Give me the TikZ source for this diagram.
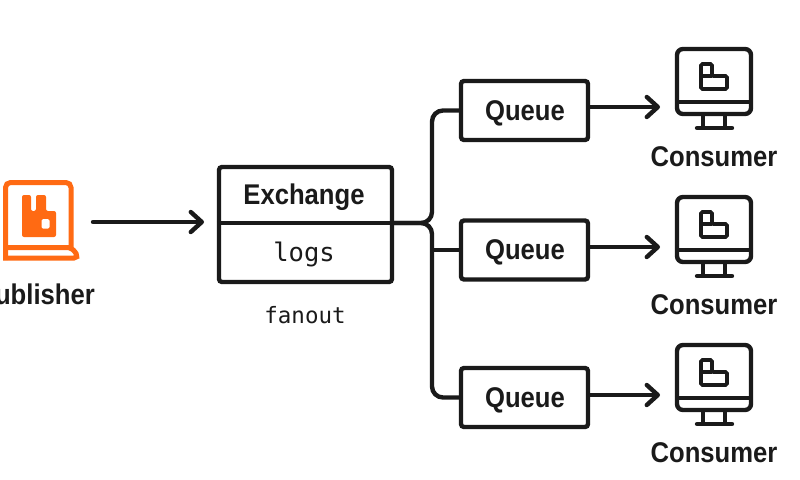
\documentclass[tikz,border=0pt]{standalone}
\usepackage{fontspec}
\setmainfont{Liberation Sans}
\newfontfamily\monof{DejaVu Sans Mono}
\usetikzlibrary{arrows.meta}
\definecolor{ink}{HTML}{1A1A1A}
\definecolor{rabbit}{HTML}{FF6A13}
\tikzset{
  x=1pt,y=-1pt,
  box/.style={draw=ink,line width=4.4pt,rounded corners=3pt,inner sep=0pt,fill=white},
  link/.style={draw=ink,line width=4.4pt,line cap=round},
  tree/.style={draw=ink,line width=4.4pt,rounded corners=11pt},
  flow/.style={link,-{Straight Barb[length=11pt,width=20pt,round,line width=4.4pt]}},
  boldlabel/.style={inner sep=0pt,font=\fontsize{28.5}{28.5}\selectfont\bfseries,text=ink},
  monolabel/.style={inner sep=0pt,font=\monof\selectfont,text=ink},
  screen/.style={draw=ink,line width=4.4pt,rounded corners=6pt,inner sep=0pt},
}
\newcommand{\squeezed}[2]{\scalebox{#1}[1]{#2}}
\begin{document}
\begin{tikzpicture}
\useasboundingbox (0,0) rectangle (800,479);
\clip (0,0) rectangle (800,479);
% publisher icon
\begin{scope}
  \clip (3,170) rectangle (90,270);
  \draw[rabbit,line width=5pt,rounded corners=5pt] (5.5,260) -- (5.5,182.5) -- (71,182.5) -- (71,248);
  \draw[rabbit,line width=5pt,rounded corners=5pt] (-5,247.5) -- (72,247.5) -- (79,258) -- (-5,258);
  \fill[rabbit,rounded corners=2pt]
     (22,195) -- (31,195) -- (31,211) -- (36,211) -- (36,195) -- (46,195) -- (46,211) -- (56,211) -- (56,237) -- (22,237) -- cycle;
  \fill[white,rounded corners=1.5pt] (41.5,219) rectangle (49.5,228.5);
\end{scope}
\node[boldlabel,anchor=base east] (pub) at (95,304) {\squeezed{0.9}{Publisher}};
% exchange
\node[box,minimum width=173pt,minimum height=115pt] (ex) at (305.5,224.5) {};
\coordinate (split) at (392,223);
\draw[link,line cap=butt] (ex.west |- split) -- (split);
\node[boldlabel] (exname) at (304,197) {\squeezed{0.9}{Exchange}};
\node[monolabel,font=\monof\fontsize{25.5}{25.5}\selectfont] (logs) at (304,254) {logs};
\node[monolabel,font=\monof\fontsize{22.5}{22.5}\selectfont] (fanout) at (305,315) {fanout};
% publisher arrow
\coordinate (pubout) at (93,222);
\coordinate (exin) at (204,222);
\draw[flow] (pubout) -- (exin);
% queues and consumers
\foreach \i/\cy/\ay/\dy in {1/110.5/107/0,2/250/247/148,3/397.5/395/296}{
  \node[box,minimum width=127pt,minimum height=59pt] (q\i) at (524.5,\cy) {};
  \node[boldlabel] (qt\i) at (525,\cy+2.5) {\squeezed{0.9}{Queue}};
  \coordinate (a\i) at (660,\ay);
  \draw[flow] (q\i.east |- a\i) -- (a\i);
  \begin{scope}[yshift=-\dy pt]
    \node[screen,minimum width=74pt,minimum height=65pt] (m\i) at (714,81.5) {};
    \draw[ink,line width=4.4pt] (m\i.west |- 0,102) -- (m\i.east |- 0,102);
    \draw[ink,line width=4.4pt] (703,115) -- (703,128) (725,115) -- (725,128);
    \draw[ink,line width=4.4pt,line cap=round] (697,128) -- (732,128);
    \draw[ink,line width=3.8pt,rounded corners=1.5pt] (701,64) -- (712,64) -- (712,76) -- (727,76) -- (727,89) -- (701,89) -- cycle;
    \draw[ink,line width=3.8pt] (701,76) -- (712,76);
    \node[boldlabel,anchor=base] (c\i) at (714,166.5) {\squeezed{0.9}{Consumer}};
  \end{scope}
}
% fan-out tree
\draw[tree] (q1.west) -- (432,110.5) -- (432,223) -- (split);
\draw[tree] (q3.west) -- (432,397.5) -- (432,223) -- (split);
\draw[link,line cap=butt] (432,250) -- (q2.west);
\end{tikzpicture}
\end{document}
